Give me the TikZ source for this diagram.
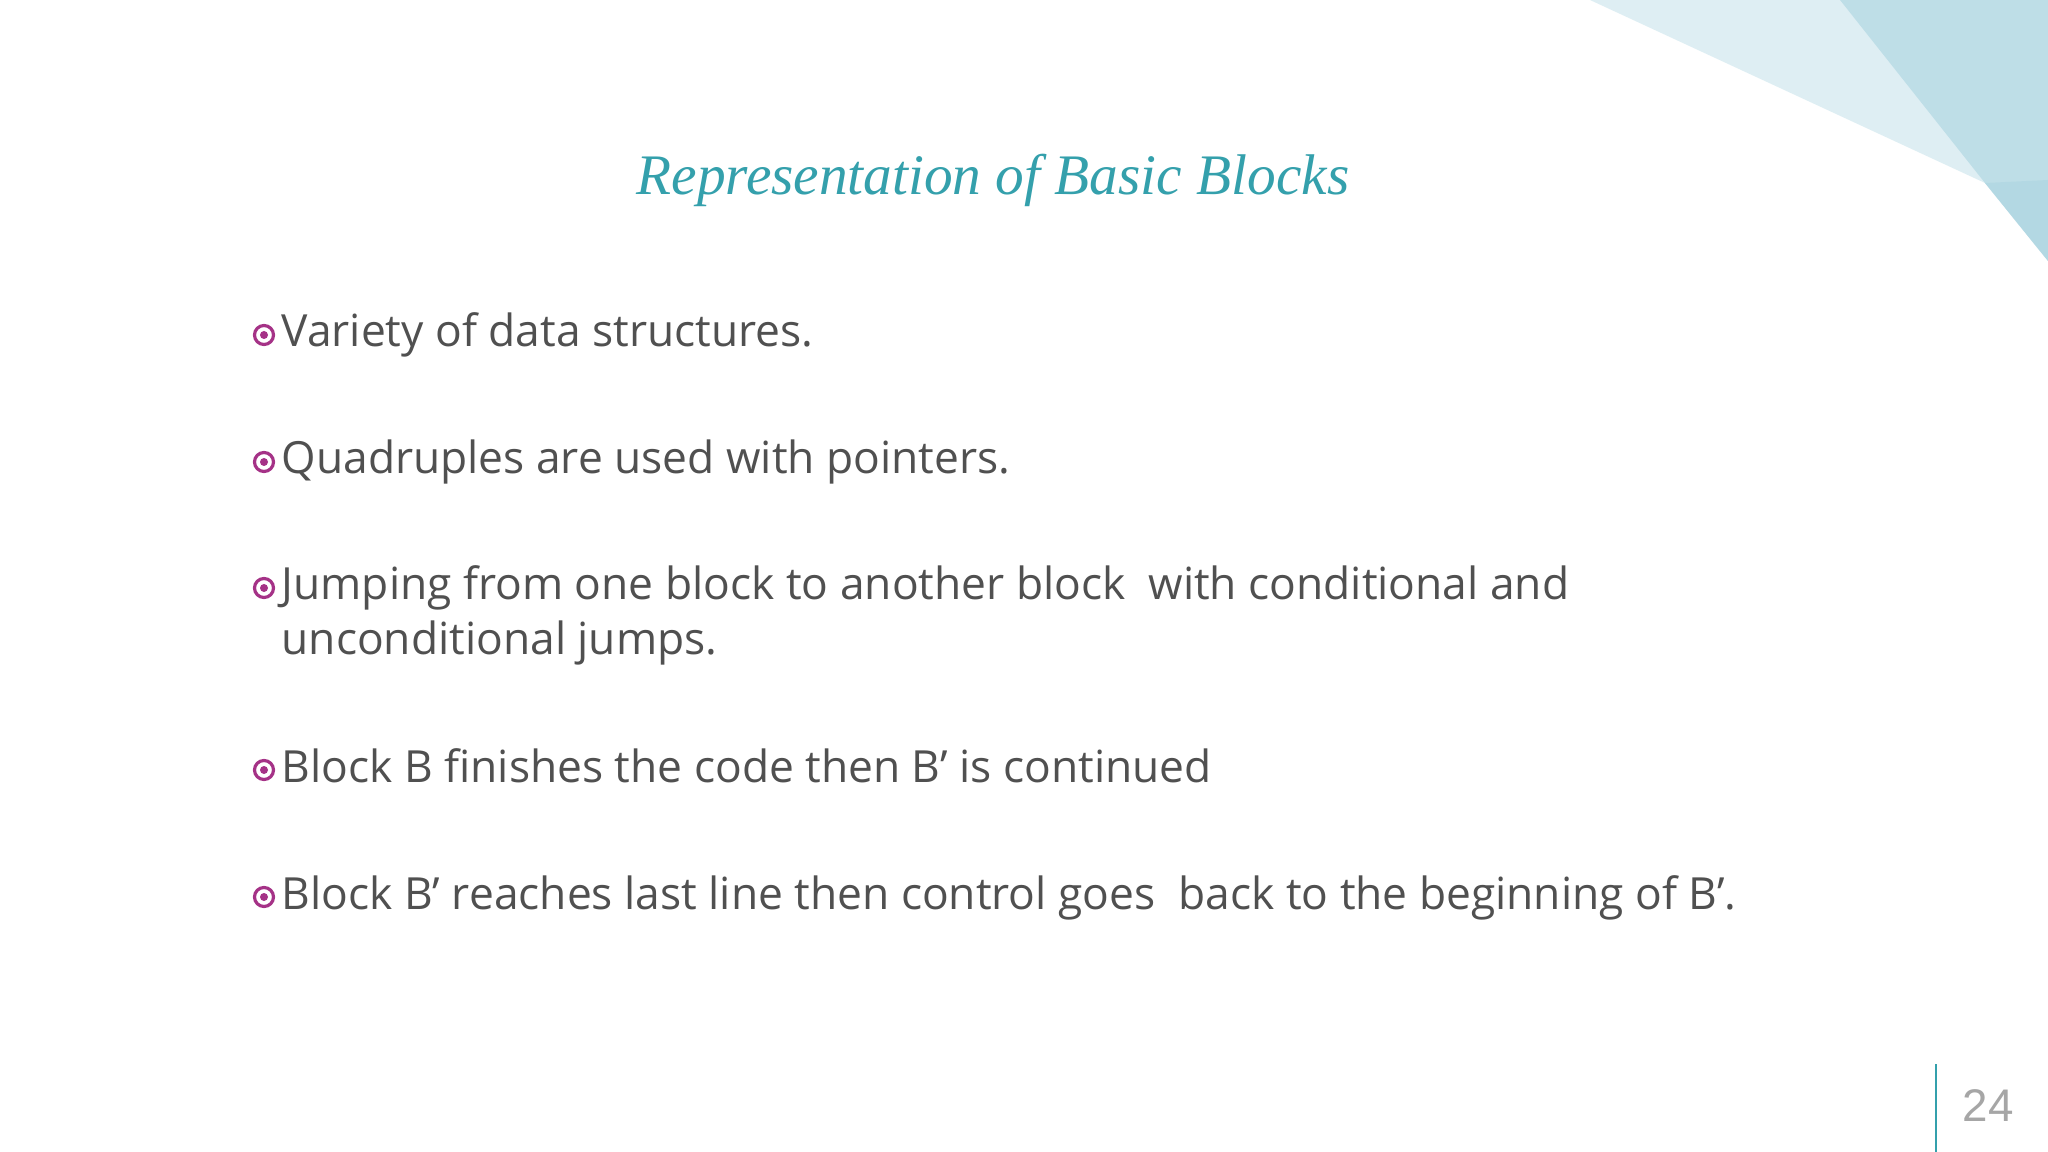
\documentclass[tikz,border=0pt]{standalone}
\usepackage{fontspec}
\setmainfont{Open Sans}
\newfontfamily\titlefont{Liberation Serif}
\newfontfamily\numfont{Liberation Sans}
\definecolor{teal1}{RGB}{52,160,172}
\definecolor{txt}{RGB}{80,80,80}
\definecolor{bul}{RGB}{165,50,135}
\definecolor{deco1}{RGB}{200,228,236}
\definecolor{deco2}{RGB}{170,212,224}
\begin{document}
\begin{tikzpicture}[x=0.01cm,y=-0.01cm,
  item/.style={anchor=base west,text=txt,font=\fontsize{12.6}{15.6}\selectfont,inner sep=0pt,align=left},
  bulletmark/.style={circle,draw=bul,line width=0.9pt,minimum size=0.19cm,inner sep=0pt}]
\useasboundingbox (0,0) rectangle (2048,1152);
\fill[white] (0,0) rectangle (2048,1152);
% decoration
\fill[deco1,opacity=0.6] (1590,0) -- (2048,0) -- (2048,261) -- (1985,183) -- cycle;
\fill[deco2,opacity=0.6] (1840,0) -- (2048,0) -- (2048,261) -- (1985,183) -- cycle;
\fill[deco2,opacity=0.5] (1985,183) -- (2048,261) -- (2048,180) -- cycle;
% title
\node[text=teal1,font=\titlefont\itshape\fontsize{16.3}{19}\selectfont] (title) at (993,180) {Representation of Basic Blocks};
% bullets
\foreach \y/\n in {347/a,474/b,600/c,782/d,909/e}{
  \node[bulletmark] (b\n) at (264,\y-12) {};
  \fill[bul] (b\n.center) circle (0.04cm);
}
\node[item] (ta) at (281,347) {Variety of data structures.};
\node[item] (tb) at (281,474) {Quadruples are used with pointers.};
\node[item] (tc) at (281,600) {Jumping from one block to another block\ \ with conditional and};
\node[item] (tc2) at (281,655) {unconditional jumps.};
\node[item] (td) at (281,782) {Block B finishes the code then B’ is continued};
\node[item] (te) at (281,909) {Block B’ reaches last line then control goes\ \ back to the beginning of B’.};
% page number
\draw[teal1,line width=0.8pt] (1936,1064) -- (1936,1152);
\node[text=gray!70,font=\numfont\fontsize{13}{15}\selectfont] (num) at (1988,1106) {24};
\end{tikzpicture}
\end{document}
